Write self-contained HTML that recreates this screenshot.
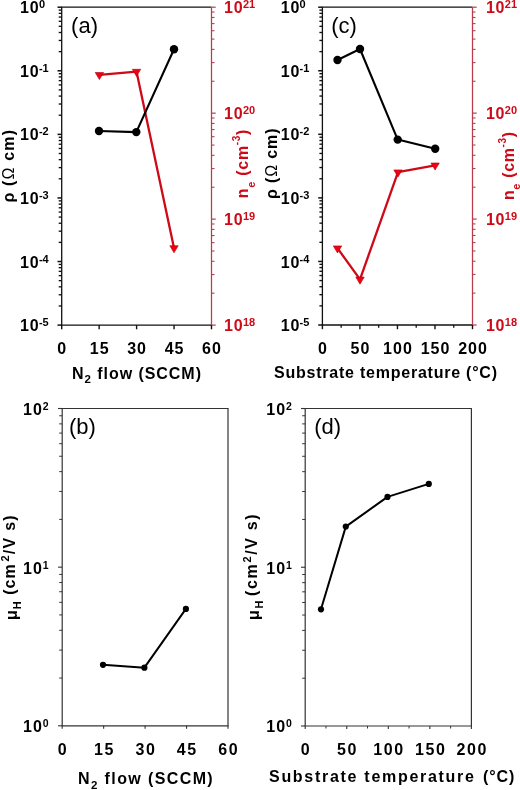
<!DOCTYPE html><html><head><meta charset="utf-8"><style>html,body{margin:0;padding:0;background:#fff;width:520px;height:790px;overflow:hidden}svg{display:block}text{font-family:'Liberation Sans', Arial, Helvetica, sans-serif}</style></head><body>
<svg width="520" height="790" viewBox="0 0 520 790">
<rect width="520" height="790" fill="#fff"/>
<line x1="61.10" y1="7.20" x2="211.50" y2="7.20" stroke="#111" stroke-width="1.3"/>
<line x1="61.70" y1="7.20" x2="61.70" y2="325.10" stroke="#111" stroke-width="1.3"/>
<line x1="61.10" y1="325.10" x2="211.50" y2="325.10" stroke="#111" stroke-width="1.3"/>
<line x1="211.50" y1="7.20" x2="211.50" y2="325.10" stroke="#b83c4c" stroke-width="1.25"/>
<line x1="57.50" y1="7.20" x2="61.70" y2="7.20" stroke="#111" stroke-width="1.5"/>
<line x1="58.70" y1="51.64" x2="61.70" y2="51.64" stroke="#111" stroke-width="1.35"/>
<line x1="58.70" y1="40.44" x2="61.70" y2="40.44" stroke="#111" stroke-width="1.35"/>
<line x1="58.70" y1="32.50" x2="61.70" y2="32.50" stroke="#111" stroke-width="1.35"/>
<line x1="58.70" y1="26.34" x2="61.70" y2="26.34" stroke="#111" stroke-width="1.35"/>
<line x1="58.70" y1="21.31" x2="61.70" y2="21.31" stroke="#111" stroke-width="1.35"/>
<line x1="58.70" y1="17.05" x2="61.70" y2="17.05" stroke="#111" stroke-width="1.35"/>
<line x1="58.70" y1="13.36" x2="61.70" y2="13.36" stroke="#111" stroke-width="1.35"/>
<line x1="58.70" y1="10.11" x2="61.70" y2="10.11" stroke="#111" stroke-width="1.35"/>
<line x1="57.50" y1="70.78" x2="61.70" y2="70.78" stroke="#111" stroke-width="1.5"/>
<line x1="58.70" y1="115.22" x2="61.70" y2="115.22" stroke="#111" stroke-width="1.35"/>
<line x1="58.70" y1="104.02" x2="61.70" y2="104.02" stroke="#111" stroke-width="1.35"/>
<line x1="58.70" y1="96.08" x2="61.70" y2="96.08" stroke="#111" stroke-width="1.35"/>
<line x1="58.70" y1="89.92" x2="61.70" y2="89.92" stroke="#111" stroke-width="1.35"/>
<line x1="58.70" y1="84.89" x2="61.70" y2="84.89" stroke="#111" stroke-width="1.35"/>
<line x1="58.70" y1="80.63" x2="61.70" y2="80.63" stroke="#111" stroke-width="1.35"/>
<line x1="58.70" y1="76.94" x2="61.70" y2="76.94" stroke="#111" stroke-width="1.35"/>
<line x1="58.70" y1="73.69" x2="61.70" y2="73.69" stroke="#111" stroke-width="1.35"/>
<line x1="57.50" y1="134.36" x2="61.70" y2="134.36" stroke="#111" stroke-width="1.5"/>
<line x1="58.70" y1="178.80" x2="61.70" y2="178.80" stroke="#111" stroke-width="1.35"/>
<line x1="58.70" y1="167.60" x2="61.70" y2="167.60" stroke="#111" stroke-width="1.35"/>
<line x1="58.70" y1="159.66" x2="61.70" y2="159.66" stroke="#111" stroke-width="1.35"/>
<line x1="58.70" y1="153.50" x2="61.70" y2="153.50" stroke="#111" stroke-width="1.35"/>
<line x1="58.70" y1="148.47" x2="61.70" y2="148.47" stroke="#111" stroke-width="1.35"/>
<line x1="58.70" y1="144.21" x2="61.70" y2="144.21" stroke="#111" stroke-width="1.35"/>
<line x1="58.70" y1="140.52" x2="61.70" y2="140.52" stroke="#111" stroke-width="1.35"/>
<line x1="58.70" y1="137.27" x2="61.70" y2="137.27" stroke="#111" stroke-width="1.35"/>
<line x1="57.50" y1="197.94" x2="61.70" y2="197.94" stroke="#111" stroke-width="1.5"/>
<line x1="58.70" y1="242.38" x2="61.70" y2="242.38" stroke="#111" stroke-width="1.35"/>
<line x1="58.70" y1="231.18" x2="61.70" y2="231.18" stroke="#111" stroke-width="1.35"/>
<line x1="58.70" y1="223.24" x2="61.70" y2="223.24" stroke="#111" stroke-width="1.35"/>
<line x1="58.70" y1="217.08" x2="61.70" y2="217.08" stroke="#111" stroke-width="1.35"/>
<line x1="58.70" y1="212.05" x2="61.70" y2="212.05" stroke="#111" stroke-width="1.35"/>
<line x1="58.70" y1="207.79" x2="61.70" y2="207.79" stroke="#111" stroke-width="1.35"/>
<line x1="58.70" y1="204.10" x2="61.70" y2="204.10" stroke="#111" stroke-width="1.35"/>
<line x1="58.70" y1="200.85" x2="61.70" y2="200.85" stroke="#111" stroke-width="1.35"/>
<line x1="57.50" y1="261.52" x2="61.70" y2="261.52" stroke="#111" stroke-width="1.5"/>
<line x1="58.70" y1="305.96" x2="61.70" y2="305.96" stroke="#111" stroke-width="1.35"/>
<line x1="58.70" y1="294.76" x2="61.70" y2="294.76" stroke="#111" stroke-width="1.35"/>
<line x1="58.70" y1="286.82" x2="61.70" y2="286.82" stroke="#111" stroke-width="1.35"/>
<line x1="58.70" y1="280.66" x2="61.70" y2="280.66" stroke="#111" stroke-width="1.35"/>
<line x1="58.70" y1="275.63" x2="61.70" y2="275.63" stroke="#111" stroke-width="1.35"/>
<line x1="58.70" y1="271.37" x2="61.70" y2="271.37" stroke="#111" stroke-width="1.35"/>
<line x1="58.70" y1="267.68" x2="61.70" y2="267.68" stroke="#111" stroke-width="1.35"/>
<line x1="58.70" y1="264.43" x2="61.70" y2="264.43" stroke="#111" stroke-width="1.35"/>
<line x1="57.50" y1="325.10" x2="61.70" y2="325.10" stroke="#111" stroke-width="1.5"/>
<line x1="211.50" y1="7.20" x2="215.70" y2="7.20" stroke="#b83c4c" stroke-width="1.2"/>
<line x1="211.50" y1="81.27" x2="214.50" y2="81.27" stroke="#b83c4c" stroke-width="1.08"/>
<line x1="211.50" y1="62.61" x2="214.50" y2="62.61" stroke="#b83c4c" stroke-width="1.08"/>
<line x1="211.50" y1="49.37" x2="214.50" y2="49.37" stroke="#b83c4c" stroke-width="1.08"/>
<line x1="211.50" y1="39.10" x2="214.50" y2="39.10" stroke="#b83c4c" stroke-width="1.08"/>
<line x1="211.50" y1="30.71" x2="214.50" y2="30.71" stroke="#b83c4c" stroke-width="1.08"/>
<line x1="211.50" y1="23.61" x2="214.50" y2="23.61" stroke="#b83c4c" stroke-width="1.08"/>
<line x1="211.50" y1="17.47" x2="214.50" y2="17.47" stroke="#b83c4c" stroke-width="1.08"/>
<line x1="211.50" y1="12.05" x2="214.50" y2="12.05" stroke="#b83c4c" stroke-width="1.08"/>
<line x1="211.50" y1="113.17" x2="215.70" y2="113.17" stroke="#b83c4c" stroke-width="1.2"/>
<line x1="211.50" y1="187.23" x2="214.50" y2="187.23" stroke="#b83c4c" stroke-width="1.08"/>
<line x1="211.50" y1="168.57" x2="214.50" y2="168.57" stroke="#b83c4c" stroke-width="1.08"/>
<line x1="211.50" y1="155.34" x2="214.50" y2="155.34" stroke="#b83c4c" stroke-width="1.08"/>
<line x1="211.50" y1="145.07" x2="214.50" y2="145.07" stroke="#b83c4c" stroke-width="1.08"/>
<line x1="211.50" y1="136.68" x2="214.50" y2="136.68" stroke="#b83c4c" stroke-width="1.08"/>
<line x1="211.50" y1="129.58" x2="214.50" y2="129.58" stroke="#b83c4c" stroke-width="1.08"/>
<line x1="211.50" y1="123.44" x2="214.50" y2="123.44" stroke="#b83c4c" stroke-width="1.08"/>
<line x1="211.50" y1="118.02" x2="214.50" y2="118.02" stroke="#b83c4c" stroke-width="1.08"/>
<line x1="211.50" y1="219.13" x2="215.70" y2="219.13" stroke="#b83c4c" stroke-width="1.2"/>
<line x1="211.50" y1="293.20" x2="214.50" y2="293.20" stroke="#b83c4c" stroke-width="1.08"/>
<line x1="211.50" y1="274.54" x2="214.50" y2="274.54" stroke="#b83c4c" stroke-width="1.08"/>
<line x1="211.50" y1="261.30" x2="214.50" y2="261.30" stroke="#b83c4c" stroke-width="1.08"/>
<line x1="211.50" y1="251.03" x2="214.50" y2="251.03" stroke="#b83c4c" stroke-width="1.08"/>
<line x1="211.50" y1="242.64" x2="214.50" y2="242.64" stroke="#b83c4c" stroke-width="1.08"/>
<line x1="211.50" y1="235.55" x2="214.50" y2="235.55" stroke="#b83c4c" stroke-width="1.08"/>
<line x1="211.50" y1="229.40" x2="214.50" y2="229.40" stroke="#b83c4c" stroke-width="1.08"/>
<line x1="211.50" y1="223.98" x2="214.50" y2="223.98" stroke="#b83c4c" stroke-width="1.08"/>
<line x1="211.50" y1="325.10" x2="215.70" y2="325.10" stroke="#b83c4c" stroke-width="1.2"/>
<line x1="61.70" y1="325.10" x2="61.70" y2="329.30" stroke="#111" stroke-width="1.4"/>
<line x1="99.15" y1="325.10" x2="99.15" y2="329.30" stroke="#111" stroke-width="1.4"/>
<line x1="136.60" y1="325.10" x2="136.60" y2="329.30" stroke="#111" stroke-width="1.4"/>
<line x1="174.05" y1="325.10" x2="174.05" y2="329.30" stroke="#111" stroke-width="1.4"/>
<line x1="211.50" y1="325.10" x2="211.50" y2="329.30" stroke="#111" stroke-width="1.4"/>
<text x="62.20" y="353.60" font-size="16" font-weight="bold" fill="#000" text-anchor="middle" letter-spacing="1">0</text>
<text x="99.65" y="353.60" font-size="16" font-weight="bold" fill="#000" text-anchor="middle" letter-spacing="1">15</text>
<text x="137.10" y="353.60" font-size="16" font-weight="bold" fill="#000" text-anchor="middle" letter-spacing="1">30</text>
<text x="174.55" y="353.60" font-size="16" font-weight="bold" fill="#000" text-anchor="middle" letter-spacing="1">45</text>
<text x="212.00" y="353.60" font-size="16" font-weight="bold" fill="#000" text-anchor="middle" letter-spacing="1">60</text>
<text font-size="16" font-weight="bold" fill="#000" x="20.00" y="13.30"><tspan letter-spacing="0.8">10</tspan><tspan font-size="11" dx="-0.50" dy="-5.00">0</tspan></text>
<text font-size="16" font-weight="bold" fill="#000" x="20.00" y="76.88"><tspan letter-spacing="0.8">10</tspan><tspan font-size="11" dx="-0.50" dy="-5.00">-1</tspan></text>
<text font-size="16" font-weight="bold" fill="#000" x="20.00" y="140.46"><tspan letter-spacing="0.8">10</tspan><tspan font-size="11" dx="-0.50" dy="-5.00">-2</tspan></text>
<text font-size="16" font-weight="bold" fill="#000" x="20.00" y="204.04"><tspan letter-spacing="0.8">10</tspan><tspan font-size="11" dx="-0.50" dy="-5.00">-3</tspan></text>
<text font-size="16" font-weight="bold" fill="#000" x="20.00" y="267.62"><tspan letter-spacing="0.8">10</tspan><tspan font-size="11" dx="-0.50" dy="-5.00">-4</tspan></text>
<text font-size="16" font-weight="bold" fill="#000" x="20.00" y="331.20"><tspan letter-spacing="0.8">10</tspan><tspan font-size="11" dx="-0.50" dy="-5.00">-5</tspan></text>
<text font-size="16" font-weight="bold" fill="#cf0a18" x="224.00" y="13.10"><tspan letter-spacing="0.8">10</tspan><tspan font-size="11" dx="-0.50" dy="-5.00">21</tspan></text>
<text font-size="16" font-weight="bold" fill="#cf0a18" x="224.00" y="119.07"><tspan letter-spacing="0.8">10</tspan><tspan font-size="11" dx="-0.50" dy="-5.00">20</tspan></text>
<text font-size="16" font-weight="bold" fill="#cf0a18" x="224.00" y="225.03"><tspan letter-spacing="0.8">10</tspan><tspan font-size="11" dx="-0.50" dy="-5.00">19</tspan></text>
<text font-size="16" font-weight="bold" fill="#cf0a18" x="224.00" y="331.00"><tspan letter-spacing="0.8">10</tspan><tspan font-size="11" dx="-0.50" dy="-5.00">18</tspan></text>
<text x="71.10" y="33.20" font-size="22" font-weight="normal" fill="#000" text-anchor="start" >(a)</text>
<polyline points="99.40,74.80 136.50,71.60 174.00,248.00" fill="none" stroke="#cf0a18" stroke-width="2.3" stroke-linejoin="round"/>
<polygon points="95.20,72.50 103.60,72.50 99.40,79.60" fill="#f00010" stroke="#b00010" stroke-width="0.6" stroke-linejoin="miter"/>
<polygon points="132.30,69.30 140.70,69.30 136.50,76.40" fill="#f00010" stroke="#b00010" stroke-width="0.6" stroke-linejoin="miter"/>
<polygon points="169.80,245.70 178.20,245.70 174.00,252.80" fill="#f00010" stroke="#b00010" stroke-width="0.6" stroke-linejoin="miter"/>
<polyline points="99.00,131.00 136.30,132.10 174.00,49.30" fill="none" stroke="#000" stroke-width="2.1" stroke-linejoin="round"/>
<circle cx="99.00" cy="131.00" r="4.20" fill="#000"/>
<circle cx="136.30" cy="132.10" r="4.20" fill="#000"/>
<circle cx="174.00" cy="49.30" r="4.20" fill="#000"/>
<text transform="translate(13.80,202.50) rotate(-90)" x="0" y="0" font-size="16" font-weight="bold" fill="#000" letter-spacing="1.14">ρ (<tspan font-weight="normal">Ω</tspan> cm)</text>
<text transform="translate(248.00,198.20) rotate(-90)" x="0" y="0" font-size="16" font-weight="bold" fill="#cf0a18" letter-spacing="0.7">n<tspan font-size="11" dy="6.5">e</tspan><tspan dy="-6.5"> (cm</tspan><tspan font-size="10" dy="-8">-3</tspan><tspan dy="8">)</tspan></text>
<text x="72.0" y="378.5" font-size="16" font-weight="bold" letter-spacing="0.95">N<tspan font-size="11.5" dy="4.8">2</tspan><tspan dy="-4.8"> flow (SCCM)</tspan></text>
<line x1="321.80" y1="7.20" x2="472.50" y2="7.20" stroke="#111" stroke-width="1.3"/>
<line x1="322.40" y1="7.20" x2="322.40" y2="325.00" stroke="#111" stroke-width="1.3"/>
<line x1="321.80" y1="325.00" x2="472.50" y2="325.00" stroke="#111" stroke-width="1.3"/>
<line x1="472.50" y1="7.20" x2="472.50" y2="325.00" stroke="#b83c4c" stroke-width="1.25"/>
<line x1="318.20" y1="7.20" x2="322.40" y2="7.20" stroke="#111" stroke-width="1.5"/>
<line x1="319.40" y1="51.63" x2="322.40" y2="51.63" stroke="#111" stroke-width="1.35"/>
<line x1="319.40" y1="40.43" x2="322.40" y2="40.43" stroke="#111" stroke-width="1.35"/>
<line x1="319.40" y1="32.49" x2="322.40" y2="32.49" stroke="#111" stroke-width="1.35"/>
<line x1="319.40" y1="26.33" x2="322.40" y2="26.33" stroke="#111" stroke-width="1.35"/>
<line x1="319.40" y1="21.30" x2="322.40" y2="21.30" stroke="#111" stroke-width="1.35"/>
<line x1="319.40" y1="17.05" x2="322.40" y2="17.05" stroke="#111" stroke-width="1.35"/>
<line x1="319.40" y1="13.36" x2="322.40" y2="13.36" stroke="#111" stroke-width="1.35"/>
<line x1="319.40" y1="10.11" x2="322.40" y2="10.11" stroke="#111" stroke-width="1.35"/>
<line x1="318.20" y1="70.76" x2="322.40" y2="70.76" stroke="#111" stroke-width="1.5"/>
<line x1="319.40" y1="115.19" x2="322.40" y2="115.19" stroke="#111" stroke-width="1.35"/>
<line x1="319.40" y1="103.99" x2="322.40" y2="103.99" stroke="#111" stroke-width="1.35"/>
<line x1="319.40" y1="96.05" x2="322.40" y2="96.05" stroke="#111" stroke-width="1.35"/>
<line x1="319.40" y1="89.89" x2="322.40" y2="89.89" stroke="#111" stroke-width="1.35"/>
<line x1="319.40" y1="84.86" x2="322.40" y2="84.86" stroke="#111" stroke-width="1.35"/>
<line x1="319.40" y1="80.61" x2="322.40" y2="80.61" stroke="#111" stroke-width="1.35"/>
<line x1="319.40" y1="76.92" x2="322.40" y2="76.92" stroke="#111" stroke-width="1.35"/>
<line x1="319.40" y1="73.67" x2="322.40" y2="73.67" stroke="#111" stroke-width="1.35"/>
<line x1="318.20" y1="134.32" x2="322.40" y2="134.32" stroke="#111" stroke-width="1.5"/>
<line x1="319.40" y1="178.75" x2="322.40" y2="178.75" stroke="#111" stroke-width="1.35"/>
<line x1="319.40" y1="167.55" x2="322.40" y2="167.55" stroke="#111" stroke-width="1.35"/>
<line x1="319.40" y1="159.61" x2="322.40" y2="159.61" stroke="#111" stroke-width="1.35"/>
<line x1="319.40" y1="153.45" x2="322.40" y2="153.45" stroke="#111" stroke-width="1.35"/>
<line x1="319.40" y1="148.42" x2="322.40" y2="148.42" stroke="#111" stroke-width="1.35"/>
<line x1="319.40" y1="144.17" x2="322.40" y2="144.17" stroke="#111" stroke-width="1.35"/>
<line x1="319.40" y1="140.48" x2="322.40" y2="140.48" stroke="#111" stroke-width="1.35"/>
<line x1="319.40" y1="137.23" x2="322.40" y2="137.23" stroke="#111" stroke-width="1.35"/>
<line x1="318.20" y1="197.88" x2="322.40" y2="197.88" stroke="#111" stroke-width="1.5"/>
<line x1="319.40" y1="242.31" x2="322.40" y2="242.31" stroke="#111" stroke-width="1.35"/>
<line x1="319.40" y1="231.11" x2="322.40" y2="231.11" stroke="#111" stroke-width="1.35"/>
<line x1="319.40" y1="223.17" x2="322.40" y2="223.17" stroke="#111" stroke-width="1.35"/>
<line x1="319.40" y1="217.01" x2="322.40" y2="217.01" stroke="#111" stroke-width="1.35"/>
<line x1="319.40" y1="211.98" x2="322.40" y2="211.98" stroke="#111" stroke-width="1.35"/>
<line x1="319.40" y1="207.73" x2="322.40" y2="207.73" stroke="#111" stroke-width="1.35"/>
<line x1="319.40" y1="204.04" x2="322.40" y2="204.04" stroke="#111" stroke-width="1.35"/>
<line x1="319.40" y1="200.79" x2="322.40" y2="200.79" stroke="#111" stroke-width="1.35"/>
<line x1="318.20" y1="261.44" x2="322.40" y2="261.44" stroke="#111" stroke-width="1.5"/>
<line x1="319.40" y1="305.87" x2="322.40" y2="305.87" stroke="#111" stroke-width="1.35"/>
<line x1="319.40" y1="294.67" x2="322.40" y2="294.67" stroke="#111" stroke-width="1.35"/>
<line x1="319.40" y1="286.73" x2="322.40" y2="286.73" stroke="#111" stroke-width="1.35"/>
<line x1="319.40" y1="280.57" x2="322.40" y2="280.57" stroke="#111" stroke-width="1.35"/>
<line x1="319.40" y1="275.54" x2="322.40" y2="275.54" stroke="#111" stroke-width="1.35"/>
<line x1="319.40" y1="271.29" x2="322.40" y2="271.29" stroke="#111" stroke-width="1.35"/>
<line x1="319.40" y1="267.60" x2="322.40" y2="267.60" stroke="#111" stroke-width="1.35"/>
<line x1="319.40" y1="264.35" x2="322.40" y2="264.35" stroke="#111" stroke-width="1.35"/>
<line x1="318.20" y1="325.00" x2="322.40" y2="325.00" stroke="#111" stroke-width="1.5"/>
<line x1="472.50" y1="7.20" x2="476.70" y2="7.20" stroke="#b83c4c" stroke-width="1.2"/>
<line x1="472.50" y1="81.24" x2="475.50" y2="81.24" stroke="#b83c4c" stroke-width="1.08"/>
<line x1="472.50" y1="62.59" x2="475.50" y2="62.59" stroke="#b83c4c" stroke-width="1.08"/>
<line x1="472.50" y1="49.36" x2="475.50" y2="49.36" stroke="#b83c4c" stroke-width="1.08"/>
<line x1="472.50" y1="39.09" x2="475.50" y2="39.09" stroke="#b83c4c" stroke-width="1.08"/>
<line x1="472.50" y1="30.70" x2="475.50" y2="30.70" stroke="#b83c4c" stroke-width="1.08"/>
<line x1="472.50" y1="23.61" x2="475.50" y2="23.61" stroke="#b83c4c" stroke-width="1.08"/>
<line x1="472.50" y1="17.47" x2="475.50" y2="17.47" stroke="#b83c4c" stroke-width="1.08"/>
<line x1="472.50" y1="12.05" x2="475.50" y2="12.05" stroke="#b83c4c" stroke-width="1.08"/>
<line x1="472.50" y1="113.13" x2="476.70" y2="113.13" stroke="#b83c4c" stroke-width="1.2"/>
<line x1="472.50" y1="187.18" x2="475.50" y2="187.18" stroke="#b83c4c" stroke-width="1.08"/>
<line x1="472.50" y1="168.52" x2="475.50" y2="168.52" stroke="#b83c4c" stroke-width="1.08"/>
<line x1="472.50" y1="155.29" x2="475.50" y2="155.29" stroke="#b83c4c" stroke-width="1.08"/>
<line x1="472.50" y1="145.02" x2="475.50" y2="145.02" stroke="#b83c4c" stroke-width="1.08"/>
<line x1="472.50" y1="136.63" x2="475.50" y2="136.63" stroke="#b83c4c" stroke-width="1.08"/>
<line x1="472.50" y1="129.54" x2="475.50" y2="129.54" stroke="#b83c4c" stroke-width="1.08"/>
<line x1="472.50" y1="123.40" x2="475.50" y2="123.40" stroke="#b83c4c" stroke-width="1.08"/>
<line x1="472.50" y1="117.98" x2="475.50" y2="117.98" stroke="#b83c4c" stroke-width="1.08"/>
<line x1="472.50" y1="219.07" x2="476.70" y2="219.07" stroke="#b83c4c" stroke-width="1.2"/>
<line x1="472.50" y1="293.11" x2="475.50" y2="293.11" stroke="#b83c4c" stroke-width="1.08"/>
<line x1="472.50" y1="274.46" x2="475.50" y2="274.46" stroke="#b83c4c" stroke-width="1.08"/>
<line x1="472.50" y1="261.22" x2="475.50" y2="261.22" stroke="#b83c4c" stroke-width="1.08"/>
<line x1="472.50" y1="250.96" x2="475.50" y2="250.96" stroke="#b83c4c" stroke-width="1.08"/>
<line x1="472.50" y1="242.57" x2="475.50" y2="242.57" stroke="#b83c4c" stroke-width="1.08"/>
<line x1="472.50" y1="235.48" x2="475.50" y2="235.48" stroke="#b83c4c" stroke-width="1.08"/>
<line x1="472.50" y1="229.33" x2="475.50" y2="229.33" stroke="#b83c4c" stroke-width="1.08"/>
<line x1="472.50" y1="223.91" x2="475.50" y2="223.91" stroke="#b83c4c" stroke-width="1.08"/>
<line x1="472.50" y1="325.00" x2="476.70" y2="325.00" stroke="#b83c4c" stroke-width="1.2"/>
<line x1="322.40" y1="325.00" x2="322.40" y2="329.20" stroke="#111" stroke-width="1.4"/>
<line x1="359.92" y1="325.00" x2="359.92" y2="329.20" stroke="#111" stroke-width="1.4"/>
<line x1="397.45" y1="325.00" x2="397.45" y2="329.20" stroke="#111" stroke-width="1.4"/>
<line x1="434.98" y1="325.00" x2="434.98" y2="329.20" stroke="#111" stroke-width="1.4"/>
<line x1="472.50" y1="325.00" x2="472.50" y2="329.20" stroke="#111" stroke-width="1.4"/>
<line x1="341.16" y1="325.00" x2="341.16" y2="327.80" stroke="#111" stroke-width="1.3"/>
<line x1="378.69" y1="325.00" x2="378.69" y2="327.80" stroke="#111" stroke-width="1.3"/>
<line x1="416.21" y1="325.00" x2="416.21" y2="327.80" stroke="#111" stroke-width="1.3"/>
<line x1="453.74" y1="325.00" x2="453.74" y2="327.80" stroke="#111" stroke-width="1.3"/>
<text x="322.90" y="353.50" font-size="16" font-weight="bold" fill="#000" text-anchor="middle" letter-spacing="1">0</text>
<text x="360.42" y="353.50" font-size="16" font-weight="bold" fill="#000" text-anchor="middle" letter-spacing="1">50</text>
<text x="397.95" y="353.50" font-size="16" font-weight="bold" fill="#000" text-anchor="middle" letter-spacing="1">100</text>
<text x="435.48" y="353.50" font-size="16" font-weight="bold" fill="#000" text-anchor="middle" letter-spacing="1">150</text>
<text x="473.00" y="353.50" font-size="16" font-weight="bold" fill="#000" text-anchor="middle" letter-spacing="1">200</text>
<text font-size="16" font-weight="bold" fill="#000" x="280.70" y="13.30"><tspan letter-spacing="0.8">10</tspan><tspan font-size="11" dx="-0.50" dy="-5.00">0</tspan></text>
<text font-size="16" font-weight="bold" fill="#000" x="280.70" y="76.86"><tspan letter-spacing="0.8">10</tspan><tspan font-size="11" dx="-0.50" dy="-5.00">-1</tspan></text>
<text font-size="16" font-weight="bold" fill="#000" x="280.70" y="140.42"><tspan letter-spacing="0.8">10</tspan><tspan font-size="11" dx="-0.50" dy="-5.00">-2</tspan></text>
<text font-size="16" font-weight="bold" fill="#000" x="280.70" y="203.98"><tspan letter-spacing="0.8">10</tspan><tspan font-size="11" dx="-0.50" dy="-5.00">-3</tspan></text>
<text font-size="16" font-weight="bold" fill="#000" x="280.70" y="267.54"><tspan letter-spacing="0.8">10</tspan><tspan font-size="11" dx="-0.50" dy="-5.00">-4</tspan></text>
<text font-size="16" font-weight="bold" fill="#000" x="280.70" y="331.10"><tspan letter-spacing="0.8">10</tspan><tspan font-size="11" dx="-0.50" dy="-5.00">-5</tspan></text>
<text font-size="16" font-weight="bold" fill="#cf0a18" x="485.90" y="13.10"><tspan letter-spacing="0.8">10</tspan><tspan font-size="11" dx="-0.50" dy="-5.00">21</tspan></text>
<text font-size="16" font-weight="bold" fill="#cf0a18" x="485.90" y="119.03"><tspan letter-spacing="0.8">10</tspan><tspan font-size="11" dx="-0.50" dy="-5.00">20</tspan></text>
<text font-size="16" font-weight="bold" fill="#cf0a18" x="485.90" y="224.97"><tspan letter-spacing="0.8">10</tspan><tspan font-size="11" dx="-0.50" dy="-5.00">19</tspan></text>
<text font-size="16" font-weight="bold" fill="#cf0a18" x="485.90" y="330.90"><tspan letter-spacing="0.8">10</tspan><tspan font-size="11" dx="-0.50" dy="-5.00">18</tspan></text>
<text x="331.30" y="33.20" font-size="22" font-weight="normal" fill="#000" text-anchor="start" >(c)</text>
<polyline points="337.50,248.20 360.00,279.40 398.00,172.20 435.10,165.30" fill="none" stroke="#cf0a18" stroke-width="2.3" stroke-linejoin="round"/>
<polygon points="333.30,245.90 341.70,245.90 337.50,253.00" fill="#f00010" stroke="#b00010" stroke-width="0.6" stroke-linejoin="miter"/>
<polygon points="355.80,277.10 364.20,277.10 360.00,284.20" fill="#f00010" stroke="#b00010" stroke-width="0.6" stroke-linejoin="miter"/>
<polygon points="393.80,169.90 402.20,169.90 398.00,177.00" fill="#f00010" stroke="#b00010" stroke-width="0.6" stroke-linejoin="miter"/>
<polygon points="430.90,163.00 439.30,163.00 435.10,170.10" fill="#f00010" stroke="#b00010" stroke-width="0.6" stroke-linejoin="miter"/>
<polyline points="337.50,60.00 360.00,49.00 397.70,139.60 435.20,148.80" fill="none" stroke="#000" stroke-width="2.1" stroke-linejoin="round"/>
<circle cx="337.50" cy="60.00" r="4.20" fill="#000"/>
<circle cx="360.00" cy="49.00" r="4.20" fill="#000"/>
<circle cx="397.70" cy="139.60" r="4.20" fill="#000"/>
<circle cx="435.20" cy="148.80" r="4.20" fill="#000"/>
<text transform="translate(276.60,199.10) rotate(-90)" x="0" y="0" font-size="16" font-weight="bold" fill="#000" letter-spacing="0.86">ρ (<tspan font-weight="normal">Ω</tspan> cm)</text>
<text transform="translate(513.60,200.10) rotate(-90)" x="0" y="0" font-size="16" font-weight="bold" fill="#cf0a18" letter-spacing="0.65">n<tspan font-size="11" dy="6.5">e</tspan><tspan dy="-6.5"> (cm</tspan><tspan font-size="10" dy="-8">-3</tspan><tspan dy="8">)</tspan></text>
<text x="274.0" y="378.0" font-size="16" font-weight="bold" letter-spacing="0.77">Substrate temperature (°C)</text>
<line x1="61.70" y1="408.50" x2="228.50" y2="408.50" stroke="#333" stroke-width="1.2"/>
<line x1="62.20" y1="408.50" x2="62.20" y2="725.80" stroke="#333" stroke-width="1.2"/>
<line x1="61.70" y1="725.80" x2="228.50" y2="725.80" stroke="#333" stroke-width="1.2"/>
<line x1="228.00" y1="408.50" x2="228.00" y2="725.80" stroke="#333" stroke-width="1.2"/>
<line x1="58.00" y1="408.50" x2="62.20" y2="408.50" stroke="#333" stroke-width="1.1"/>
<line x1="59.20" y1="519.39" x2="62.20" y2="519.39" stroke="#333" stroke-width="0.9900000000000001"/>
<line x1="59.20" y1="491.45" x2="62.20" y2="491.45" stroke="#333" stroke-width="0.9900000000000001"/>
<line x1="59.20" y1="471.63" x2="62.20" y2="471.63" stroke="#333" stroke-width="0.9900000000000001"/>
<line x1="59.20" y1="456.26" x2="62.20" y2="456.26" stroke="#333" stroke-width="0.9900000000000001"/>
<line x1="59.20" y1="443.70" x2="62.20" y2="443.70" stroke="#333" stroke-width="0.9900000000000001"/>
<line x1="59.20" y1="433.08" x2="62.20" y2="433.08" stroke="#333" stroke-width="0.9900000000000001"/>
<line x1="59.20" y1="423.87" x2="62.20" y2="423.87" stroke="#333" stroke-width="0.9900000000000001"/>
<line x1="59.20" y1="415.76" x2="62.20" y2="415.76" stroke="#333" stroke-width="0.9900000000000001"/>
<line x1="58.00" y1="567.15" x2="62.20" y2="567.15" stroke="#333" stroke-width="1.1"/>
<line x1="59.20" y1="678.04" x2="62.20" y2="678.04" stroke="#333" stroke-width="0.9900000000000001"/>
<line x1="59.20" y1="650.10" x2="62.20" y2="650.10" stroke="#333" stroke-width="0.9900000000000001"/>
<line x1="59.20" y1="630.28" x2="62.20" y2="630.28" stroke="#333" stroke-width="0.9900000000000001"/>
<line x1="59.20" y1="614.91" x2="62.20" y2="614.91" stroke="#333" stroke-width="0.9900000000000001"/>
<line x1="59.20" y1="602.35" x2="62.20" y2="602.35" stroke="#333" stroke-width="0.9900000000000001"/>
<line x1="59.20" y1="591.73" x2="62.20" y2="591.73" stroke="#333" stroke-width="0.9900000000000001"/>
<line x1="59.20" y1="582.52" x2="62.20" y2="582.52" stroke="#333" stroke-width="0.9900000000000001"/>
<line x1="59.20" y1="574.41" x2="62.20" y2="574.41" stroke="#333" stroke-width="0.9900000000000001"/>
<line x1="58.00" y1="725.80" x2="62.20" y2="725.80" stroke="#333" stroke-width="1.1"/>
<line x1="62.20" y1="725.80" x2="62.20" y2="728.80" stroke="#333" stroke-width="1.1"/>
<line x1="103.65" y1="725.80" x2="103.65" y2="728.80" stroke="#333" stroke-width="1.1"/>
<line x1="145.10" y1="725.80" x2="145.10" y2="728.80" stroke="#333" stroke-width="1.1"/>
<line x1="186.55" y1="725.80" x2="186.55" y2="728.80" stroke="#333" stroke-width="1.1"/>
<line x1="228.00" y1="725.80" x2="228.00" y2="728.80" stroke="#333" stroke-width="1.1"/>
<text x="63.00" y="754.80" font-size="16" font-weight="bold" fill="#000" text-anchor="middle" letter-spacing="1.6">0</text>
<text x="104.45" y="754.80" font-size="16" font-weight="bold" fill="#000" text-anchor="middle" letter-spacing="1.6">15</text>
<text x="145.90" y="754.80" font-size="16" font-weight="bold" fill="#000" text-anchor="middle" letter-spacing="1.6">30</text>
<text x="187.35" y="754.80" font-size="16" font-weight="bold" fill="#000" text-anchor="middle" letter-spacing="1.6">45</text>
<text x="228.80" y="754.80" font-size="16" font-weight="bold" fill="#000" text-anchor="middle" letter-spacing="1.6">60</text>
<text font-size="16" font-weight="bold" fill="#000" x="23.00" y="414.90"><tspan letter-spacing="1.2">10</tspan><tspan font-size="10.5" dx="-0.50" dy="-5.00">2</tspan></text>
<text font-size="16" font-weight="bold" fill="#000" x="23.00" y="573.55"><tspan letter-spacing="1.2">10</tspan><tspan font-size="10.5" dx="-0.50" dy="-5.00">1</tspan></text>
<text font-size="16" font-weight="bold" fill="#000" x="23.00" y="732.20"><tspan letter-spacing="1.2">10</tspan><tspan font-size="10.5" dx="-0.50" dy="-5.00">0</tspan></text>
<text x="69.00" y="433.50" font-size="22" font-weight="normal" fill="#000" text-anchor="start" >(b)</text>
<polyline points="103.00,664.80 144.40,667.70 185.90,608.90" fill="none" stroke="#000" stroke-width="2.0" stroke-linejoin="round"/>
<circle cx="103.00" cy="664.80" r="3.10" fill="#000"/>
<circle cx="144.40" cy="667.70" r="3.10" fill="#000"/>
<circle cx="185.90" cy="608.90" r="3.10" fill="#000"/>
<text transform="translate(15.00,620.00) rotate(-90)" x="0" y="0" font-size="16" font-weight="bold" fill="#000" letter-spacing="1.0"><tspan dy="2">μ</tspan><tspan font-size="11" dy="4.3">H</tspan><tspan dy="-6.3" dx="0"> (cm</tspan><tspan font-size="11" dy="-6" dx="1.9">2</tspan><tspan dy="6" letter-spacing="1.3">/V s)</tspan></text>
<text x="78.0" y="783.8" font-size="16" font-weight="bold" letter-spacing="1.39">N<tspan font-size="11.5" dy="4.8">2</tspan><tspan dy="-4.8"> flow (SCCM)</tspan></text>
<line x1="304.70" y1="408.50" x2="471.90" y2="408.50" stroke="#333" stroke-width="1.2"/>
<line x1="305.20" y1="408.50" x2="305.20" y2="726.00" stroke="#333" stroke-width="1.2"/>
<line x1="304.70" y1="726.00" x2="471.90" y2="726.00" stroke="#333" stroke-width="1.2"/>
<line x1="471.40" y1="408.50" x2="471.40" y2="726.00" stroke="#333" stroke-width="1.2"/>
<line x1="301.00" y1="408.50" x2="305.20" y2="408.50" stroke="#333" stroke-width="1.1"/>
<line x1="302.20" y1="519.46" x2="305.20" y2="519.46" stroke="#333" stroke-width="0.9900000000000001"/>
<line x1="302.20" y1="491.51" x2="305.20" y2="491.51" stroke="#333" stroke-width="0.9900000000000001"/>
<line x1="302.20" y1="471.67" x2="305.20" y2="471.67" stroke="#333" stroke-width="0.9900000000000001"/>
<line x1="302.20" y1="456.29" x2="305.20" y2="456.29" stroke="#333" stroke-width="0.9900000000000001"/>
<line x1="302.20" y1="443.72" x2="305.20" y2="443.72" stroke="#333" stroke-width="0.9900000000000001"/>
<line x1="302.20" y1="433.09" x2="305.20" y2="433.09" stroke="#333" stroke-width="0.9900000000000001"/>
<line x1="302.20" y1="423.88" x2="305.20" y2="423.88" stroke="#333" stroke-width="0.9900000000000001"/>
<line x1="302.20" y1="415.76" x2="305.20" y2="415.76" stroke="#333" stroke-width="0.9900000000000001"/>
<line x1="301.00" y1="567.25" x2="305.20" y2="567.25" stroke="#333" stroke-width="1.1"/>
<line x1="302.20" y1="678.21" x2="305.20" y2="678.21" stroke="#333" stroke-width="0.9900000000000001"/>
<line x1="302.20" y1="650.26" x2="305.20" y2="650.26" stroke="#333" stroke-width="0.9900000000000001"/>
<line x1="302.20" y1="630.42" x2="305.20" y2="630.42" stroke="#333" stroke-width="0.9900000000000001"/>
<line x1="302.20" y1="615.04" x2="305.20" y2="615.04" stroke="#333" stroke-width="0.9900000000000001"/>
<line x1="302.20" y1="602.47" x2="305.20" y2="602.47" stroke="#333" stroke-width="0.9900000000000001"/>
<line x1="302.20" y1="591.84" x2="305.20" y2="591.84" stroke="#333" stroke-width="0.9900000000000001"/>
<line x1="302.20" y1="582.63" x2="305.20" y2="582.63" stroke="#333" stroke-width="0.9900000000000001"/>
<line x1="302.20" y1="574.51" x2="305.20" y2="574.51" stroke="#333" stroke-width="0.9900000000000001"/>
<line x1="301.00" y1="726.00" x2="305.20" y2="726.00" stroke="#333" stroke-width="1.1"/>
<line x1="305.20" y1="726.00" x2="305.20" y2="729.00" stroke="#333" stroke-width="1.1"/>
<line x1="346.75" y1="726.00" x2="346.75" y2="729.00" stroke="#333" stroke-width="1.1"/>
<line x1="388.30" y1="726.00" x2="388.30" y2="729.00" stroke="#333" stroke-width="1.1"/>
<line x1="429.85" y1="726.00" x2="429.85" y2="729.00" stroke="#333" stroke-width="1.1"/>
<line x1="471.40" y1="726.00" x2="471.40" y2="729.00" stroke="#333" stroke-width="1.1"/>
<line x1="325.97" y1="726.00" x2="325.97" y2="728.50" stroke="#333" stroke-width="1.0"/>
<line x1="367.52" y1="726.00" x2="367.52" y2="728.50" stroke="#333" stroke-width="1.0"/>
<line x1="409.07" y1="726.00" x2="409.07" y2="728.50" stroke="#333" stroke-width="1.0"/>
<line x1="450.62" y1="726.00" x2="450.62" y2="728.50" stroke="#333" stroke-width="1.0"/>
<text x="306.00" y="755.00" font-size="16" font-weight="bold" fill="#000" text-anchor="middle" letter-spacing="1.6">0</text>
<text x="347.55" y="755.00" font-size="16" font-weight="bold" fill="#000" text-anchor="middle" letter-spacing="1.6">50</text>
<text x="389.10" y="755.00" font-size="16" font-weight="bold" fill="#000" text-anchor="middle" letter-spacing="1.6">100</text>
<text x="430.65" y="755.00" font-size="16" font-weight="bold" fill="#000" text-anchor="middle" letter-spacing="1.6">150</text>
<text x="472.20" y="755.00" font-size="16" font-weight="bold" fill="#000" text-anchor="middle" letter-spacing="1.6">200</text>
<text font-size="16" font-weight="bold" fill="#000" x="266.20" y="414.90"><tspan letter-spacing="1.2">10</tspan><tspan font-size="10.5" dx="-0.50" dy="-5.00">2</tspan></text>
<text font-size="16" font-weight="bold" fill="#000" x="266.20" y="573.65"><tspan letter-spacing="1.2">10</tspan><tspan font-size="10.5" dx="-0.50" dy="-5.00">1</tspan></text>
<text font-size="16" font-weight="bold" fill="#000" x="266.20" y="732.40"><tspan letter-spacing="1.2">10</tspan><tspan font-size="10.5" dx="-0.50" dy="-5.00">0</tspan></text>
<text x="314.30" y="433.50" font-size="22" font-weight="normal" fill="#000" text-anchor="start" >(d)</text>
<polyline points="321.00,609.30 345.80,526.60 387.50,496.90 428.80,483.90" fill="none" stroke="#000" stroke-width="2.0" stroke-linejoin="round"/>
<circle cx="321.00" cy="609.30" r="3.10" fill="#000"/>
<circle cx="345.80" cy="526.60" r="3.10" fill="#000"/>
<circle cx="387.50" cy="496.90" r="3.10" fill="#000"/>
<circle cx="428.80" cy="483.90" r="3.10" fill="#000"/>
<text transform="translate(257.00,620.00) rotate(-90)" x="0" y="0" font-size="16" font-weight="bold" fill="#000" letter-spacing="1.64"><tspan dy="2">μ</tspan><tspan font-size="11" dy="4.3">H</tspan><tspan dy="-6.3" dx="-3"> (cm</tspan><tspan font-size="11" dy="-6" dx="0">2</tspan><tspan dy="6" letter-spacing="1.64">/V s)</tspan></text>
<text x="269.0" y="782.0" font-size="16" font-weight="bold" letter-spacing="1.71">Substrate temperature<tspan letter-spacing="0.9" dx="2.0"> (°C)</tspan></text>
</svg></body></html>
